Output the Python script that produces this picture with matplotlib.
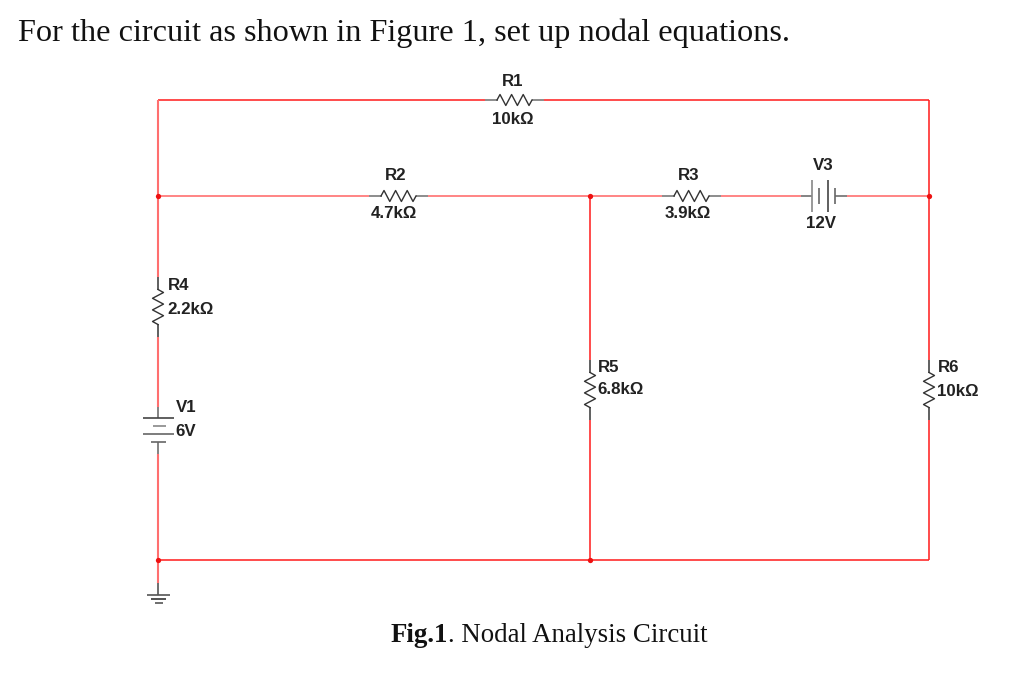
import matplotlib
matplotlib.use("Agg")
import matplotlib.pyplot as plt

RED = "#ff1a1a"
PINK = "#ff6f6f"
GREY = "#6e6e6e"

# wires: (x0, y0, x1, y1)
wires_top = [(158, 100, 485, 100), (544, 100, 929, 100), (929, 100, 929, 196)]
wires_mid = [(158, 196, 369, 196), (428, 196, 590, 196), (590, 196, 662, 196),
             (721, 196, 801, 196), (847, 196, 929, 196)]
wires_left = [(158, 100, 158, 277), (158, 337, 158, 407), (158, 454, 158, 583)]
wires_v = [(590, 196, 590, 360), (590, 420, 590, 560),
           (929, 196, 929, 360), (929, 420, 929, 560)]
wires_bottom = [(158, 560, 929, 560)]
junctions = [(158, 196), (590, 196), (929, 196), (158, 560), (590, 560)]

# resistors: centre x, centre y
h_resistors = [(514.5, 100), (398.5, 196), (691.5, 196)]
v_resistors = [(158, 307), (590, 390), (929, 390)]

labels = [("R1", 513, 81), ("10kΩ", 513, 119), ("R2", 396, 175), ("4.7kΩ", 394, 214),
          ("R3", 689, 175), ("3.9kΩ", 688, 214), ("V3", 823, 166), ("12V", 821, 224),
          ("R4", 179, 286), ("2.2kΩ", 191, 310), ("V1", 186, 408), ("6V", 186, 432),
          ("R5", 609, 368), ("6.8kΩ", 620, 390), ("R6", 949, 368), ("10kΩ", 958, 392)]

title = "For the circuit as shown in Figure 1, set up nodal equations."
caption_bold = "Fig.1"
caption_rest = ". Nodal Analysis Circuit"

# zigzag offsets of a resistor symbol (along, across)
zig = [(-17.5, 0), (-14.5, -5.5), (-8.7, 5.5), (-2.9, -5.5), (2.9, 5.5), (8.7, -5.5), (14.5, 5.5), (17.5, 0)]

fig = plt.figure(figsize=(10.24, 6.89), dpi=100)
ax = fig.add_axes([0, 0, 1, 1])
ax.set_xlim(0, 1024)
ax.set_ylim(689, 0)
ax.axis("off")


def seg(x0, y0, x1, y1, c, lw=1.0):
    ax.plot([x0, x1], [y0, y1], color=c, lw=lw, solid_capstyle="butt", zorder=2)


for w in wires_top + wires_v + wires_bottom:
    seg(*w, RED, 1.1)
for w in wires_mid:
    seg(*w, PINK, 1.2)
for w in wires_left:
    seg(*w, PINK, 1.5)

for x, y in junctions:
    ax.plot([x], [y], "o", color="#ee1111", ms=3.8, mew=0, zorder=3)

for cx, cy in h_resistors:
    seg(cx - 29.5, cy, cx - 17, cy, GREY, 1.1)
    seg(cx + 17, cy, cx + 29.5, cy, GREY, 1.1)
    ax.plot([cx + a for a, b in zig], [cy + b for a, b in zig], color="#333333", lw=1.0, zorder=3)

for cx, cy in v_resistors:
    seg(cx, cy - 30, cx, cy - 17, "#444444", 1.2)
    seg(cx, cy + 17, cx, cy + 30, "#444444", 1.2)
    ax.plot([cx - b for a, b in zig], [cy + a for a, b in zig], color="#333333", lw=1.0, zorder=3)

# V1 battery
for y0, y1 in [(407, 418), (442, 454)]:
    seg(158, y0, 158, y1, GREY, 1.2)
for y, x0, x1, c in [(418, 143, 174, "#444444"), (426, 153, 166, "#888888"),
                     (434, 143, 174, "#666666"), (442, 151, 166, "#666666")]:
    seg(x0, y, x1, y, c, 1.2)

# V3 battery
seg(801, 196, 812, 196, GREY, 1.2)
seg(835, 196, 847, 196, GREY, 1.2)
for x, y0, y1, c in [(812, 180, 212, "#888888"), (819, 188, 204, "#666666"),
                     (828, 180, 212, "#444444"), (835, 188, 204, "#666666")]:
    seg(x, y0, x, y1, c, 1.2)

# ground
seg(158, 583, 158, 595, GREY, 1.4)
for y, x0, x1, c in [(595, 147, 170, "#555555"), (599, 151, 166, "#333333"), (603, 155, 163, "#555555")]:
    seg(x0, y, x1, y, c, 1.2)

for s, x, y in labels:
    ax.text(x, y, s, ha="center", va="center", family="Liberation Sans", weight="bold",
            fontsize=12.2, color="#222222", zorder=4)

ax.text(18, 33, title, ha="left", va="center", family="Liberation Serif", fontsize=23.2, color="#111111")
t = ax.text(391, 636, caption_bold, ha="left", va="center", family="Liberation Serif",
            weight="bold", fontsize=19.4, color="#111111")
fig.canvas.draw()
bb = t.get_window_extent()
ax.text(bb.x1, 636, caption_rest, ha="left", va="center", family="Liberation Serif",
        fontsize=19.4, color="#111111")

fig.savefig("out.png", dpi=100)
